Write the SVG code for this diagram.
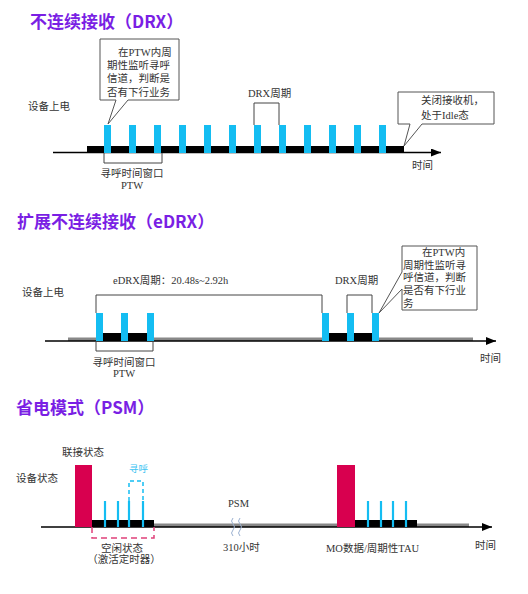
<svg xmlns="http://www.w3.org/2000/svg" width="528" height="594" viewBox="0 0 528 594">
<defs>
<style>
.title{font-family:"Noto Sans CJK SC","Liberation Sans",sans-serif;font-weight:bold;font-size:17px;fill:#7a1fe4}
.t{font-family:"Liberation Serif","Noto Sans CJK SC",serif;font-size:10.5px;fill:#333}
.blue{fill:#14bdf2}
.bk{fill:#000}
.ln{stroke:#444;stroke-width:1;fill:none}
.gray{fill:#888}
.red{fill:#d8004f}
.box{fill:#fff;stroke:#555;stroke-width:1}
.pl{stroke:#14bdf2;stroke-width:2.2}
</style>
<marker id="arr" viewBox="0 0 10 8" refX="10" refY="4" markerWidth="10" markerHeight="8" markerUnits="userSpaceOnUse" orient="auto">
<path d="M0,0 L10,4 L0,8 z" fill="#000"/>
</marker>
</defs>
<rect width="528" height="594" fill="#fff"/>

<!-- DRX -->
<g id="drx">
<text class="title" x="30" y="28">不连续接收（DRX）</text>
<text class="t" x="28" y="110">设备上电</text>
<line x1="53" y1="152.5" x2="441" y2="152.5" stroke="#000" stroke-width="1.3" marker-end="url(#arr)"/>
<rect class="bk" x="87" y="146" width="317" height="7"/>
<g class="blue">
<rect x="104" y="125" width="7" height="28"/><rect x="129" y="125" width="7" height="28"/>
<rect x="154" y="125" width="7" height="28"/><rect x="179" y="125" width="7" height="28"/>
<rect x="204" y="125" width="7" height="28"/><rect x="229" y="125" width="7" height="28"/>
<rect x="254" y="125" width="7" height="28"/><rect x="279" y="125" width="7" height="28"/>
<rect x="304" y="125" width="7" height="28"/><rect x="329" y="125" width="7" height="28"/>
<rect x="354" y="125" width="7" height="28"/><rect x="379" y="125" width="7" height="28"/>
</g>
<polyline class="ln" points="104,153 104,163 162,163 162,153"/>
<text class="t" x="132" y="177" text-anchor="middle">寻呼时间窗口</text>
<text class="t" x="132" y="189" text-anchor="middle">PTW</text>
<polyline class="ln" points="254,125 254,103 279,103 279,125"/>
<text class="t" x="248" y="97">DRX周期</text>
<text class="t" x="412" y="169">时间</text>
</g>
<g id="drx-callout1">
<path class="box" d="M100,39 H179 V100 H128 L108,124 L116,100 H100 Z"/>
<text class="t" x="118" y="56">在PTW内周</text>
<text class="t" x="107" y="69">期性监听寻呼</text>
<text class="t" x="107" y="82">信道，判断是</text>
<text class="t" x="107" y="96">否有下行业务</text>
</g>
<g id="drx-callout2">
<path class="box" d="M398,92 H494 V124 H422 L404,146 L410,124 H398 Z"/>
<text class="t" x="421" y="104">关闭接收机，</text>
<text class="t" x="421" y="119">处于Idle态</text>
</g>

<!-- eDRX -->
<g id="edrx">
<text class="title" x="17" y="228">扩展不连续接收（eDRX）</text>
<text class="t" x="22" y="296">设备上电</text>
<text class="t" x="113" y="284">eDRX周期：20.48s~2.92h</text>
<rect class="gray" x="68" y="337.5" width="405" height="3.5"/>
<line x1="45" y1="341" x2="496" y2="341" stroke="#000" stroke-width="1.3" marker-end="url(#arr)"/>
<rect class="bk" x="103" y="333" width="44" height="8"/>
<rect class="bk" x="329" y="333" width="43" height="8"/>
<g class="blue">
<rect x="96" y="313" width="7" height="28"/><rect x="121" y="313" width="7" height="28"/><rect x="147" y="313" width="7" height="28"/>
<rect x="322" y="313" width="7" height="28"/><rect x="347" y="313" width="7" height="28"/><rect x="372" y="313" width="7" height="28"/>
</g>
<polyline class="ln" points="96,313 96,295 322,295 322,313"/>
<polyline class="ln" points="347,313 347,295 372,295 372,313"/>
<polyline class="ln" points="96,341 96,351 153,351 153,341"/>
<text class="t" x="124" y="366" text-anchor="middle">寻呼时间窗口</text>
<text class="t" x="124" y="377" text-anchor="middle">PTW</text>
<text class="t" x="335" y="284">DRX周期</text>
<text class="t" x="480" y="362">时间</text>
</g>
<g id="edrx-callout">
<path class="box" d="M402,246 H477 V310 H402 V289 L379,313 L402,272 Z"/>
<text class="t" x="422" y="256">在PTW内</text>
<text class="t" x="403" y="269">周期性监听寻</text>
<text class="t" x="403" y="281">呼信道，判断</text>
<text class="t" x="403" y="294">是否有下行业</text>
<text class="t" x="403" y="307">务</text>
</g>

<!-- PSM -->
<g id="psm">
<text class="title" x="16" y="414">省电模式（PSM）</text>
<text class="t" x="62" y="456">联接状态</text>
<text class="t" x="16" y="482">设备状态</text>
<rect class="gray" x="154" y="523.5" width="315" height="3.5"/>
<line x1="41" y1="527" x2="492" y2="527" stroke="#000" stroke-width="1.3" marker-end="url(#arr)"/>
<rect class="red" x="75" y="465" width="17" height="62"/>
<rect class="bk" x="92" y="520" width="62" height="7"/>
<line class="pl" x1="105" y1="501" x2="105" y2="527"/>
<line class="pl" x1="118" y1="501" x2="118" y2="527"/>
<line class="pl" x1="129" y1="501" x2="129" y2="527"/>
<line class="pl" x1="143" y1="501" x2="143" y2="527"/>
<polyline points="129,501 129,481 143,481 143,501" fill="none" stroke="#14bdf2" stroke-width="1.5" stroke-dasharray="4,3"/>
<text x="129" y="472" font-family="'Noto Sans CJK SC',sans-serif" font-size="9.5" fill="#3cc4f2">寻呼</text>
<polyline points="92,527 92,538 154,538 154,527" fill="none" stroke="#e0407a" stroke-width="1.5" stroke-dasharray="6,4"/>
<text class="t" x="122" y="552" text-anchor="middle">空闲状态</text>
<text class="t" x="124" y="563" text-anchor="middle">（激活定时器）</text>
<text class="t" x="228" y="507">PSM</text>
<path d="M233,518 q-3,3 0,6 q3,3 0,6 q-3,3 0,6 M240,518 q-3,3 0,6 q3,3 0,6 q-3,3 0,6" fill="none" stroke="#9ab0d0" stroke-width="1"/>
<text class="t" x="223" y="551">310小时</text>
<rect class="red" x="337" y="465" width="18" height="62"/>
<rect class="bk" x="355" y="520" width="62" height="7"/>
<line class="pl" x1="368" y1="501" x2="368" y2="527"/>
<line class="pl" x1="381" y1="501" x2="381" y2="527"/>
<line class="pl" x1="393" y1="501" x2="393" y2="527"/>
<line class="pl" x1="406" y1="501" x2="406" y2="527"/>
<text class="t" x="326" y="552">MO数据/周期性TAU</text>
<text class="t" x="475" y="549">时间</text>
</g>
</svg>
